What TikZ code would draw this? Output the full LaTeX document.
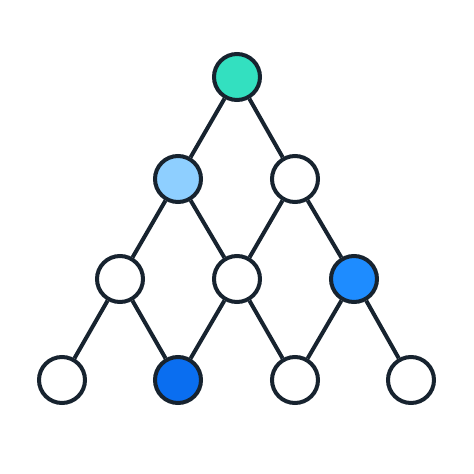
\documentclass[tikz,border=0pt]{standalone}
\definecolor{ink}{HTML}{17232F}
\definecolor{cteal}{HTML}{33E0C0}
\definecolor{clight}{HTML}{8ECFFF}
\definecolor{cmid}{HTML}{1E8CFF}
\definecolor{cdark}{HTML}{0A6EF0}
\begin{document}
\begin{tikzpicture}[x=1pt,y=-1pt,
  vtx/.style={circle,draw=ink,line width=4pt,fill=white,minimum size=46pt,inner sep=0pt},
  edge/.style={draw=ink,line width=4pt}]
\useasboundingbox (0,0) rectangle (474,474);
\node[vtx,fill=cteal] (a) at (237,77) {};
\node[vtx,fill=clight] (b1) at (178,179) {};
\node[vtx] (b2) at (295,179) {};
\node[vtx] (c1) at (120,279) {};
\node[vtx] (c2) at (237,279) {};
\node[vtx,fill=cmid] (c3) at (354,279) {};
\node[vtx] (d1) at (62,380) {};
\node[vtx,fill=cdark] (d2) at (178,380) {};
\node[vtx] (d3) at (295,380) {};
\node[vtx] (d4) at (411,380) {};
\begin{scope}[on background layer/.style={}]
\end{scope}
\path[edge] (a) -- (b1) (a) -- (b2)
  (b1) -- (c1) (b1) -- (c2) (b2) -- (c2) (b2) -- (c3)
  (c1) -- (d1) (c1) -- (d2) (c2) -- (d2) (c2) -- (d3) (c3) -- (d3) (c3) -- (d4);
\end{tikzpicture}
\end{document}
